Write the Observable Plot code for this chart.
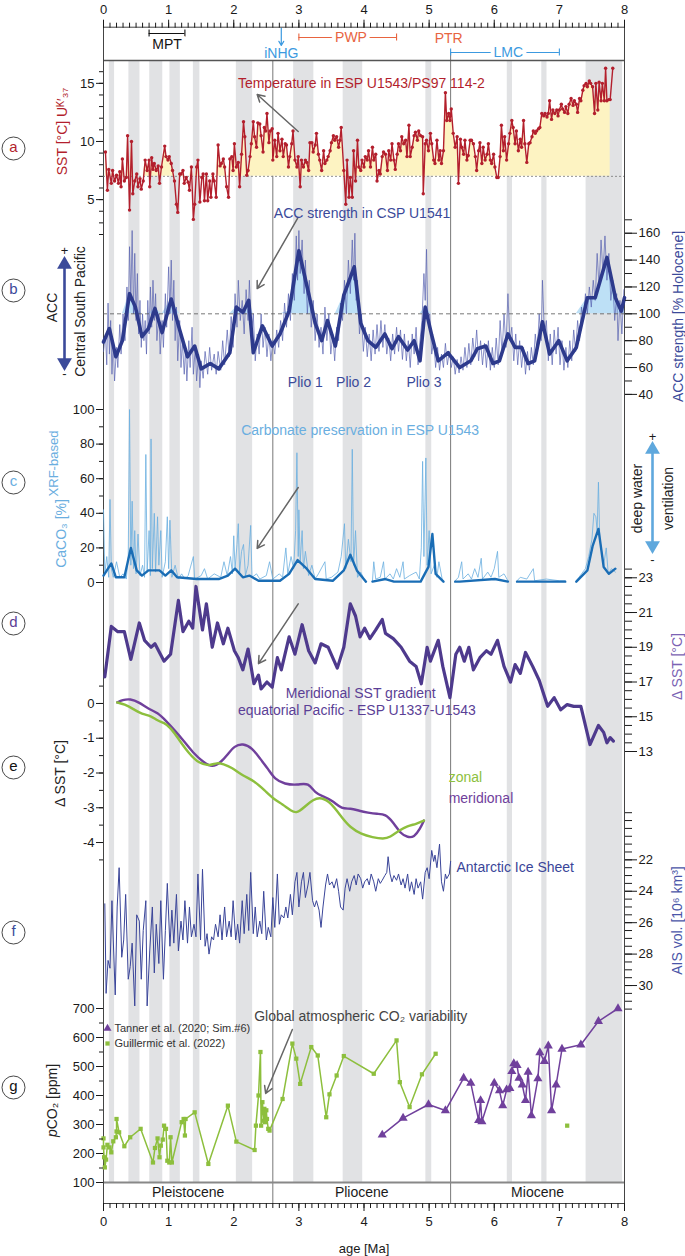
<!DOCTYPE html>
<html>
<head>
<meta charset="utf-8">
<script src="https://cdn.jsdelivr.net/npm/d3@7"></script>
<script src="https://cdn.jsdelivr.net/npm/@observablehq/plot@0.6"></script>
<style>
  html, body { margin: 0; padding: 0; background: #fff; overflow: hidden; }
  #chart { position: relative; width: 685px; height: 1256px; }
  #chart svg { position: absolute; left: 0; top: 0; }
</style>
</head>
<body>
<div id="chart"></div>
<script>
// ---- data (ages in Ma) ----
const bands = [[0.09,0.17],[0.39,0.56],[0.71,0.91],[1.02,1.18],[1.38,1.48],[2.04,2.29],[2.92,3.23],[3.68,3.98],[4.95,5.04],[6.2,6.28],[6.73,6.81],[7.41,7.97]];
const epochs = ["Pleistocene", "Pliocene", "Miocene"];
const epochFrom = [0, 2.6, 5.33];
const epochTo = [2.6, 5.33, 8];
const events = ["MPT", "PWP", "LMC"];
const eventFrom = [0.7, 3.0, 5.33];
const eventTo = [1.25, 4.5, 7.0];
const markers = ["iNHG", "PTR"];
const markerAge = [2.73, 5.3];

// a: SST U1543 [age, °C]
const sst = [[0.03,9.1],[0.06,5.8],[0.08,7.6],[0.12,6.4],[0.14,7.5],[0.17,6.6],[0.2,7.1],[0.23,6.4],[0.25,7.4],[0.27,6.1],
[0.29,8.5],[0.32,6.6],[0.35,6.9],[0.37,10.5],[0.4,4.1],[0.43,10.0],[0.45,5.5],[0.48,6.6],[0.51,7.2],[0.53,6.1],
[0.56,6.8],[0.58,5.9],[0.61,6.6],[0.64,8.4],[0.67,7.5],[0.7,8.4],[0.71,6.1],[0.74,8.6],[0.76,7.6],[0.78,8.1],
[0.81,7.5],[0.84,7.9],[0.86,6.4],[0.89,7.8],[0.94,9.6],[0.96,8.7],[0.99,8.4],[1.01,8.7],[1.04,8.1],[1.06,7.5],
[1.09,6.6],[1.12,4.6],[1.14,3.9],[1.17,7.2],[1.19,7.2],[1.22,7.5],[1.24,6.4],[1.27,6.9],[1.3,6.5],[1.32,5.8],
[1.35,7.8],[1.38,3.3],[1.4,4.6],[1.43,7.8],[1.45,8.4],[1.48,4.8],[1.51,6.9],[1.53,7.2],[1.55,4.9],[1.58,7.2],
[1.6,4.9],[1.63,6.6],[1.65,5.2],[1.68,7.2],[1.7,6.6],[1.73,5.2],[1.76,9.7],[1.79,7.9],[1.81,8.1],[1.84,8.5],
[1.86,7.8],[1.89,6.1],[1.92,5.2],[1.94,8.5],[1.97,8.7],[1.99,7.5],[2.01,9.8],[2.04,7.8],[2.07,8.2],[2.09,6.1],
[2.12,8.9],[2.15,11.7],[2.17,10.4],[2.2,7.1],[2.22,7.5],[2.25,8.7],[2.27,9.8],[2.3,11.7],[2.32,10.4],[2.35,9.5],
[2.37,11.6],[2.4,11.5],[2.42,10.5],[2.45,9.1],[2.47,11.2],[2.49,10.9],[2.51,12.4],[2.54,9.9],[2.56,10.9],[2.59,11.1],
[2.6,8.4],[2.63,10.1],[2.66,8.7],[2.68,10.7],[2.71,9.2],[2.74,10.2],[2.76,8.7],[2.79,9.8],[2.81,9.7],[2.84,7.8],
[2.86,8.7],[2.89,9.8],[2.91,10.9],[2.94,8.4],[2.97,7.8],[2.99,8.7],[3.02,6.1],[3.04,8.4],[3.07,7.8],[3.1,8.4],
[3.12,8.2],[3.15,7.5],[3.17,9.9],[3.2,9.9],[3.22,9.1],[3.25,9.7],[3.27,10.7],[3.3,8.9],[3.32,8.4],[3.35,7.5],
[3.38,9.2],[3.4,8.1],[3.43,8.4],[3.45,8.7],[3.48,9.2],[3.5,9.9],[3.53,10.5],[3.55,10.1],[3.58,10.4],[3.61,9.5],
[3.63,10.1],[3.65,11.2],[3.69,7.5],[3.72,4.6],[3.74,8.4],[3.77,5.2],[3.79,6.9],[3.82,5.2],[3.84,9.2],[3.87,6.6],
[3.9,10.1],[3.92,7.8],[3.95,7.5],[3.97,8.4],[4.0,7.8],[4.02,8.7],[4.05,8.4],[4.07,9.2],[4.1,7.8],[4.13,9.5],
[4.15,8.4],[4.18,8.9],[4.2,6.6],[4.23,7.5],[4.25,7.2],[4.28,8.7],[4.3,9.1],[4.33,8.9],[4.36,7.5],[4.38,9.2],
[4.41,8.4],[4.43,9.8],[4.46,8.4],[4.48,7.6],[4.51,8.9],[4.53,9.8],[4.56,9.2],[4.58,10.4],[4.61,9.8],[4.64,10.1],
[4.66,8.7],[4.69,11.4],[4.71,8.7],[4.74,9.5],[4.77,10.5],[4.79,10.8],[4.82,10.1],[4.84,10.9],[4.87,10.5],[4.9,10.4],
[4.91,5.5],[4.94,9.8],[4.96,10.1],[4.99,9.2],[5.02,10.7],[5.04,9.8],[5.07,8.4],[5.09,8.1],[5.12,10.1],[5.15,8.4],
[5.17,9.2],[5.19,8.1],[5.22,9.2],[5.25,14.2],[5.27,11.8],[5.3,12.4],[5.32,11.8],[5.34,12.8],[5.37,10.7],[5.4,9.5],
[5.43,10.4],[5.45,6.4],[5.48,10.2],[5.5,9.5],[5.53,8.9],[5.55,10.1],[5.58,8.4],[5.6,8.8],[5.63,10.1],[5.65,10.1],
[5.68,9.8],[5.71,8.7],[5.73,7.5],[5.76,9.2],[5.78,9.9],[5.81,8.1],[5.83,9.5],[5.86,8.4],[5.89,8.9],[5.91,9.8],
[5.94,8.4],[5.96,8.1],[5.99,8.9],[6.01,7.8],[6.04,6.9],[6.06,6.9],[6.09,8.7],[6.11,11.4],[6.14,9.2],[6.16,10.4],
[6.19,8.4],[6.22,9.8],[6.24,10.7],[6.27,11.8],[6.29,11.2],[6.32,9.8],[6.34,10.9],[6.37,9.2],[6.4,10.2],[6.42,9.5],
[6.45,11.8],[6.47,9.8],[6.5,8.2],[6.53,9.8],[6.55,9.9],[6.58,10.4],[6.6,10.9],[6.63,10.7],[6.65,10.9],[6.68,11.1],
[6.7,11.2],[6.73,12.4],[6.76,12.2],[6.78,12.4],[6.81,12.1],[6.83,12.4],[6.85,13.5],[6.88,11.9],[6.9,12.7],[6.93,12.4],
[6.96,12.7],[6.98,12.2],[7.0,12.7],[7.03,13.2],[7.05,12.8],[7.08,12.5],[7.1,13.0],[7.13,12.4],[7.15,13.2],[7.18,13.7],
[7.21,13.1],[7.23,13.5],[7.26,13.2],[7.28,12.5],[7.31,13.7],[7.33,13.5],[7.36,14.4],[7.38,14.8],[7.41,15.0],[7.43,14.7],
[7.46,15.2],[7.48,15.0],[7.51,14.7],[7.54,12.4],[7.56,15.0],[7.59,12.7],[7.61,15.1],[7.64,13.5],[7.66,15.0],[7.69,13.5],
[7.71,16.3],[7.73,13.5],[7.76,13.6],[7.78,13.6],[7.82,16.3]];

// b: ACC strength U1541 [% Holocene]
const accRaw = [[0,72],[0.03,85],[0.05,62],[0.07,108],[0.09,70],[0.11,95],[0.13,55],[0.15,80],[0.17,50],[0.2,75],
[0.22,60],[0.25,92],[0.27,70],[0.3,100],[0.33,80],[0.36,120],[0.38,95],[0.4,150],[0.42,110],[0.44,162],
[0.46,100],[0.48,145],[0.5,95],[0.52,130],[0.54,85],[0.56,110],[0.58,75],[0.6,100],[0.62,80],[0.64,95],
[0.66,70],[0.68,110],[0.7,85],[0.72,120],[0.74,90],[0.76,125],[0.78,95],[0.8,115],[0.82,80],[0.85,100],
[0.87,70],[0.9,95],[0.92,75],[0.95,115],[0.97,90],[1.0,135],[1.02,100],[1.04,140],[1.06,95],[1.08,125],
[1.1,80],[1.12,105],[1.14,65],[1.17,95],[1.19,60],[1.21,80],[1.24,55],[1.26,75],[1.28,50],[1.31,80],
[1.33,60],[1.36,90],[1.38,55],[1.41,75],[1.43,50],[1.46,70],[1.48,45],[1.5,65],[1.53,52],[1.56,72],
[1.6,55],[1.63,75],[1.66,58],[1.7,70],[1.73,55],[1.76,72],[1.8,58],[1.83,80],[1.86,62],[1.9,88],
[1.93,68],[1.96,98],[1.99,75],[2.02,115],[2.05,90],[2.07,125],[2.1,95],[2.13,110],[2.16,85],[2.19,118],
[2.22,95],[2.24,125],[2.27,85],[2.3,100],[2.33,65],[2.36,85],[2.39,70],[2.42,100],[2.45,75],[2.48,90],
[2.51,68],[2.54,85],[2.57,65],[2.6,80],[2.63,70],[2.66,88],[2.69,75],[2.72,95],[2.75,80],[2.78,108],
[2.81,90],[2.84,115],[2.87,95],[2.9,130],[2.93,110],[2.96,158],[2.98,125],[3.0,162],[3.02,130],[3.05,155],
[3.08,115],[3.1,140],[3.13,100],[3.16,125],[3.19,90],[3.22,110],[3.25,80],[3.28,100],[3.31,75],[3.34,90],
[3.37,70],[3.4,105],[3.43,80],[3.46,100],[3.49,70],[3.52,85],[3.55,65],[3.58,90],[3.61,80],[3.64,108],
[3.67,95],[3.7,125],[3.73,100],[3.76,140],[3.79,115],[3.82,155],[3.84,125],[3.86,160],[3.88,110],[3.9,125],
[3.93,85],[3.96,100],[3.99,72],[4.02,90],[4.05,68],[4.08,85],[4.11,65],[4.14,88],[4.17,70],[4.2,92],
[4.23,72],[4.26,95],[4.29,75],[4.32,92],[4.35,70],[4.38,82],[4.41,65],[4.44,85],[4.47,70],[4.5,90],
[4.53,72],[4.56,88],[4.59,66],[4.62,85],[4.65,65],[4.68,80],[4.71,60],[4.74,85],[4.77,70],[4.8,90],
[4.83,62],[4.86,80],[4.89,95],[4.92,130],[4.94,110],[4.96,148],[4.98,95],[5.01,100],[5.04,70],[5.07,80],
[5.1,60],[5.13,75],[5.16,58],[5.19,70],[5.22,60],[5.25,78],[5.28,62],[5.31,72],[5.34,60],[5.37,68],
[5.4,55],[5.43,66],[5.46,56],[5.49,68],[5.52,58],[5.55,75],[5.58,60],[5.61,78],[5.64,62],[5.67,82],
[5.7,68],[5.73,88],[5.76,65],[5.79,80],[5.82,62],[5.85,78],[5.88,60],[5.91,80],[5.94,58],[5.97,75],
[6.0,60],[6.03,82],[6.06,62],[6.09,95],[6.12,70],[6.15,100],[6.18,75],[6.21,115],[6.24,80],[6.27,90],
[6.3,65],[6.33,85],[6.36,62],[6.39,80],[6.42,60],[6.45,75],[6.48,55],[6.51,72],[6.54,58],[6.57,75],
[6.6,62],[6.63,85],[6.66,70],[6.69,100],[6.72,80],[6.74,125],[6.77,85],[6.8,95],[6.83,65],[6.86,85],
[6.89,62],[6.92,88],[6.95,70],[6.98,90],[7.01,62],[7.04,80],[7.07,58],[7.1,75],[7.13,60],[7.16,80],
[7.19,65],[7.22,88],[7.25,72],[7.28,95],[7.31,80],[7.34,105],[7.37,95],[7.4,115],[7.43,100],[7.46,120],
[7.49,105],[7.52,125],[7.55,110],[7.58,145],[7.61,120],[7.64,155],[7.67,130],[7.7,158],[7.73,125],[7.76,145],
[7.79,110],[7.82,125],[7.85,95],[7.88,115],[7.9,80],[7.93,110],[7.96,85],[7.99,118]];
const accSmooth = [[0,79],[0.09,89],[0.19,68],[0.29,80],[0.4,115],[0.49,105],[0.59,83],[0.69,89],[0.79,104],[0.9,86],
[1.04,111],[1.17,88],[1.29,68],[1.4,76],[1.5,59],[1.64,63],[1.77,59],[1.94,71],[2.04,105],[2.14,101],
[2.23,110],[2.3,71],[2.44,91],[2.59,76],[2.71,85],[2.85,102],[3.0,147],[3.15,115],[3.25,93],[3.35,80],
[3.44,95],[3.56,76],[3.69,114],[3.85,135],[3.95,93],[4.06,80],[4.18,75],[4.32,85],[4.43,74],[4.53,83],
[4.67,73],[4.77,80],[4.86,65],[4.94,105],[5.04,84],[5.14,65],[5.29,71],[5.47,60],[5.64,65],[5.74,74],
[5.87,76],[5.98,63],[6.08,65],[6.21,85],[6.32,75],[6.42,75],[6.52,63],[6.62,65],[6.74,94],[6.85,70],
[6.99,80],[7.12,65],[7.26,75],[7.43,112],[7.55,112],[7.73,142],[7.86,112],[7.95,102],[8.0,112]];
const plioLabels = ["Plio 1", "Plio 2", "Plio 3"];
const plioAge = [3.1, 3.84, 4.92];

// c: CaCO3 XRF-based [%]; null = no data
const carbRaw = [[0,42],[0.02,5],[0.05,15],[0.08,3],[0.1,48],[0.12,8],[0.15,3],[0.2,12],[0.25,3],[0.3,5],
[0.35,2],[0.38,15],[0.4,100],[0.42,10],[0.44,47],[0.46,8],[0.48,30],[0.5,5],[0.53,28],[0.56,4],
[0.6,10],[0.63,3],[0.65,74],[0.67,6],[0.7,30],[0.72,4],[0.73,83],[0.75,8],[0.78,40],[0.8,6],
[0.83,38],[0.85,10],[0.88,30],[0.9,3],[0.95,12],[0.98,38],[1.0,8],[1.02,36],[1.05,3],[1.1,10],
[1.15,2],[1.2,5],[1.25,2],[1.3,4],[1.38,15],[1.4,2],[1.5,4],[1.55,8],[1.6,2],[1.7,5],
[1.8,3],[1.85,12],[1.9,4],[1.95,15],[1.98,5],[2.0,27],[2.02,8],[2.05,22],[2.07,34],[2.09,6],
[2.12,18],[2.15,22],[2.18,4],[2.22,10],[2.26,33],[2.28,3],[2.35,5],[2.4,2],[2.5,4],[2.55,12],
[2.6,2],[2.7,5],[2.75,3],[2.8,20],[2.83,5],[2.88,15],[2.92,8],[2.95,30],[2.97,75],[2.99,15],
[3.0,42],[3.02,12],[3.05,30],[3.07,8],[3.1,18],[3.15,4],[3.2,10],[3.25,2],[3.3,5],[3.4,12],
[3.42,2],[3.5,3],[3.6,6],[3.65,15],[3.7,34],[3.72,8],[3.76,25],[3.8,12],[3.82,77],[3.84,10],
[3.87,30],[3.9,3],[3.95,6],[4.0,2],[4.03,1],[4.08,null],[4.13,1],[4.15,12],[4.18,2],[4.25,3],
[4.3,12],[4.32,2],[4.4,5],[4.45,2],[4.5,8],[4.55,3],[4.6,12],[4.62,2],[4.7,4],[4.8,6],
[4.85,2],[4.88,20],[4.9,70],[4.92,15],[4.95,72],[4.97,10],[5.0,30],[5.03,5],[5.08,10],[5.12,3],
[5.15,12],[5.2,2],[5.22,1],[5.3,null],[5.4,1],[5.45,3],[5.5,12],[5.52,2],[5.6,5],[5.65,2],
[5.7,8],[5.75,3],[5.8,14],[5.82,2],[5.9,6],[5.95,3],[6.0,8],[6.05,18],[6.07,3],[6.15,5],
[6.21,1],[6.28,null],[6.35,1],[6.4,3],[6.5,2],[6.6,8],[6.62,1],[6.8,2],[7.0,1],[7.09,1],
[7.17,null],[7.26,1],[7.3,3],[7.4,8],[7.45,15],[7.5,25],[7.53,40],[7.56,38],[7.58,30],[7.6,58],
[7.62,25],[7.65,18],[7.68,10],[7.72,20],[7.75,5],[7.8,8],[7.86,6]];
const carbSmooth = [[0,4],[0.12,11],[0.19,3],[0.32,3],[0.42,20],[0.51,7],[0.59,4],[0.69,7],[0.86,7],[0.95,4],
[1.04,7],[1.13,3],[1.43,2],[1.77,2],[1.91,4],[2.02,8],[2.14,3],[2.24,4],[2.38,1],[2.71,1],
[2.85,5],[2.98,13],[3.12,8],[3.25,2],[3.52,1],[3.69,7],[3.79,16],[3.89,7],[4.03,0.5],[4.08,null],
[4.13,0.5],[4.33,2],[4.46,0.5],[4.87,0.5],[4.99,9],[5.05,28],[5.1,5],[5.22,0.5],[5.3,null],[5.4,0.5],
[5.47,0.5],[6.01,2],[6.21,0.5],[6.28,null],[6.35,0.5],[7.09,0.5],[7.17,null],[7.26,0.5],[7.43,7],[7.51,21],
[7.6,31],[7.68,9],[7.76,5],[7.86,8]];

// d: meridional SST gradient U1337-U1543 [°C]
const meridGrad = [[0.02,17.3],[0.12,20.2],[0.22,19.9],[0.32,19.9],[0.42,18.3],[0.55,20.4],[0.63,19.4],[0.73,19.0],[0.79,19.2],[0.93,18.2],
[1.03,18.6],[1.15,21.7],[1.22,19.9],[1.31,20.5],[1.37,20.1],[1.42,22.5],[1.52,20.0],[1.58,21.5],[1.67,19.0],[1.75,20.4],
[1.84,19.2],[1.91,20.1],[2.01,18.8],[2.07,18.4],[2.14,17.7],[2.22,18.9],[2.31,16.9],[2.38,17.4],[2.42,16.6],[2.51,17.0],
[2.59,16.7],[2.67,18.4],[2.73,17.7],[2.85,19.6],[2.94,18.6],[3.05,20.3],[3.15,18.8],[3.25,18.1],[3.34,19.2],[3.45,19.0],
[3.59,17.8],[3.69,19.0],[3.79,21.5],[3.87,20.8],[3.94,19.6],[4.01,20.1],[4.09,19.5],[4.18,20.0],[4.28,20.6],[4.33,19.8],
[4.45,19.5],[4.57,19.0],[4.7,18.2],[4.8,17.9],[4.88,16.9],[4.97,19.0],[5.02,18.2],[5.14,19.4],[5.21,17.9],[5.32,16.1],
[5.41,18.6],[5.47,19.0],[5.54,18.2],[5.61,19.0],[5.68,17.7],[5.78,18.4],[5.88,18.8],[5.95,18.6],[6.05,19.4],[6.15,17.9],
[6.25,17.0],[6.32,18.0],[6.4,17.5],[6.48,18.7],[6.59,17.9],[6.69,17.1],[6.82,15.6],[6.92,16.1],[7.02,15.4],[7.12,15.7],
[7.22,15.6],[7.33,15.6],[7.47,13.4],[7.6,14.5],[7.68,14.1],[7.73,13.5],[7.78,13.8],[7.83,13.6]];

// e: ΔSST relative to today [°C]
const zonal = [[0.21,0.03],[0.32,-0.02],[0.46,-0.16],[0.59,-0.31],[0.73,-0.35],[0.83,-0.5],[0.93,-0.55],[1.03,-0.69],[1.17,-1.07],[1.3,-1.41],
[1.47,-1.74],[1.64,-1.79],[1.74,-1.7],[1.84,-1.74],[1.97,-1.84],[2.14,-2.08],[2.31,-2.22],[2.48,-2.51],[2.61,-2.75],[2.75,-2.9],
[2.88,-3.09],[2.97,-3.16],[3.08,-2.99],[3.22,-2.75],[3.35,-2.7],[3.49,-2.85],[3.66,-3.28],[3.79,-3.57],[3.96,-3.76],[4.13,-3.85],
[4.3,-3.9],[4.4,-3.85],[4.53,-3.66],[4.67,-3.52],[4.8,-3.47],[4.92,-3.37]];
const meridional = [[0.21,0.03],[0.29,0.1],[0.41,0.14],[0.55,0.03],[0.69,-0.16],[0.83,-0.26],[0.96,-0.5],[1.1,-0.79],[1.23,-1.07],[1.37,-1.41],
[1.54,-1.7],[1.67,-1.84],[1.8,-1.7],[1.91,-1.46],[2.01,-1.22],[2.14,-1.15],[2.28,-1.27],[2.41,-1.6],[2.53,-1.89],[2.63,-2.18],
[2.78,-2.32],[2.98,-2.35],[3.15,-2.27],[3.25,-2.59],[3.39,-2.68],[3.52,-2.8],[3.66,-3.04],[3.79,-3.01],[3.93,-3.09],[4.06,-3.14],
[4.2,-3.18],[4.33,-3.18],[4.45,-3.42],[4.57,-3.76],[4.67,-3.85],[4.77,-3.85],[4.86,-3.61],[4.92,-3.37]];

// f: Antarctic ice sheet volume [10^6 km^3]
const ais = [[0.02,24.8],[0.04,30.5],[0.07,28.4],[0.1,28.9],[0.13,24.6],[0.15,27.1],[0.18,30.6],[0.21,25.0],[0.24,22.5],[0.28,28.2],
[0.31,27.1],[0.34,24.2],[0.38,29.6],[0.41,28.8],[0.44,27.3],[0.48,31.3],[0.51,25.5],[0.55,25.9],[0.58,29.6],[0.61,26.5],
[0.65,24.6],[0.67,31.3],[0.71,27.8],[0.75,25.0],[0.78,29.2],[0.81,26.1],[0.85,28.6],[0.88,24.6],[0.92,29.6],[0.95,26.5],
[0.98,23.5],[1.02,27.5],[1.05,25.2],[1.08,27.3],[1.12,24.2],[1.15,27.8],[1.19,25.9],[1.22,27.1],[1.25,24.6],[1.29,27.3],
[1.32,25.0],[1.35,26.9],[1.39,26.1],[1.42,26.9],[1.45,22.9],[1.49,27.1],[1.52,22.6],[1.56,27.5],[1.59,26.7],[1.62,28.0],
[1.66,26.9],[1.69,27.1],[1.72,26.1],[1.76,26.9],[1.79,25.5],[1.82,27.1],[1.86,25.0],[1.89,26.9],[1.93,25.9],[1.96,26.9],
[1.99,24.6],[2.03,27.1],[2.06,26.1],[2.09,27.3],[2.13,24.6],[2.16,26.7],[2.2,24.2],[2.23,26.5],[2.26,22.8],[2.3,26.7],
[2.33,25.0],[2.36,26.9],[2.4,25.9],[2.43,26.7],[2.46,24.0],[2.5,27.1],[2.53,26.3],[2.57,26.9],[2.6,24.4],[2.63,26.3],
[2.67,22.9],[2.7,26.1],[2.73,25.5],[2.77,25.7],[2.8,25.0],[2.83,25.7],[2.87,24.2],[2.9,25.5],[2.94,23.4],[2.97,22.8],
[3.0,25.0],[3.04,23.4],[3.07,22.8],[3.1,24.4],[3.14,23.6],[3.17,22.8],[3.21,24.6],[3.24,25.0],[3.27,24.6],[3.31,25.2],
[3.34,26.3],[3.37,25.0],[3.41,23.6],[3.44,22.9],[3.47,23.6],[3.51,23.4],[3.54,23.8],[3.58,23.2],[3.61,24.0],[3.64,25.0],
[3.68,25.2],[3.71,23.8],[3.74,23.2],[3.78,24.0],[3.81,23.4],[3.85,23.0],[3.88,23.6],[3.91,22.9],[3.95,23.2],[3.98,23.8],
[4.01,23.4],[4.05,23.2],[4.08,23.6],[4.11,22.9],[4.15,23.4],[4.18,24.0],[4.22,23.2],[4.25,23.5],[4.28,23.3],[4.32,23.0],
[4.35,22.8],[4.37,21.8],[4.4,22.9],[4.43,23.4],[4.46,23.0],[4.5,23.3],[4.53,22.9],[4.57,23.6],[4.6,23.2],[4.63,23.8],
[4.67,22.9],[4.7,24.0],[4.73,23.4],[4.77,24.2],[4.8,23.2],[4.83,23.8],[4.87,23.4],[4.9,24.5],[4.94,22.8],[4.97,22.5],
[5.0,23.2],[5.04,21.4],[5.07,22.1],[5.09,21.7],[5.12,22.5],[5.16,21.0],[5.19,23.4],[5.22,24.0],[5.25,22.9],[5.27,23.2],
[5.31,22.9],[5.33,22.1]];

// g: atmospheric pCO2 [ppm]
const tanner = [[4.28,264],[4.6,322],[4.99,369],[5.25,348],[5.53,460],[5.64,443],[5.76,314],[5.79,383],[5.81,310],[6.0,443],
[6.08,417],[6.13,365],[6.19,420],[6.24,425],[6.27,483],[6.3,510],[6.35,504],[6.38,460],[6.43,437],[6.48,383],
[6.52,481],[6.57,331],[6.67,458],[6.7,548],[6.77,518],[6.83,571],[6.88,348],[6.95,437],[7.04,560],[7.33,575],
[7.6,656],[7.9,700]];
const guillermic = [[0,252],[0,221],[0.01,187],[0.02,152],[0.04,179],[0.06,230],[0.09,221],[0.12,204],[0.15,242],[0.19,256],
[0.2,276],[0.2,319],[0.24,273],[0.32,225],[0.41,256],[0.57,285],[0.76,169],[0.79,219],[0.83,252],[0.86,187],
[0.88,227],[0.91,248],[0.93,296],[0.96,285],[0.98,175],[1.01,169],[1.03,256],[1.05,169],[1.2,308],[1.23,319],
[1.25,262],[1.26,319],[1.4,342],[1.61,164],[1.91,365],[2.04,241],[2.32,212],[2.34,296],[2.38,400],[2.41,550],
[2.42,296],[2.44,377],[2.46,313],[2.47,354],[2.48,308],[2.5,349],[2.51,319],[2.53,285],[2.55,279],[2.75,388],
[2.9,579],[2.96,527],[3.02,440],[3.19,567],[3.29,538],[3.42,325],[3.47,404],[3.58,469],[3.69,536],[4.15,475],
[4.5,590],[4.55,446],[4.7,360],[4.89,473],[5.1,544],[7.12,296]];

// ---- styling ----
const font = "'Liberation Sans', Arial, Helvetica, sans-serif";
const RED = "#b31f2d", ACC = "#2d3a8c", ACCTHIN = "#5861b0", BLUE = "#3b4a9a",
  CARB = "#6aaee0", CARBD = "#1a6db5", PURD = "#4e3a8d", PUR = "#70409c",
  GREEN = "#8dbf3d", AISC = "#3a4599", ORANGE = "#e8643f", SKY = "#3c9ae0", ARROW = "#666";

const root = document.getElementById("chart");
function layer(o) {
  const svg = Plot.plot({
    width: 685, height: 1256,
    marginLeft: 103, marginRight: 61, marginTop: 26.7, marginBottom: 53,
    style: {background: "none", fontFamily: font, fontSize: "13px", color: "#1a1a1a", overflow: "visible"},
    ...o
  });
  root.append(svg);
  return svg;
}
const X = {domain: [0, 8], range: [103, 624], axis: null};
const ax = d => d[0], ay = d => d[1];

function yAxis(anchor, major, minor) {
  const left = anchor === "left";
  return [
    Plot.axisY(minor, {anchor, tickSize: left ? 4 : 7, tickFormat: () => "", label: null}),
    Plot.axisY(major, {anchor, tickSize: left ? 7 : 12, tickPadding: 2, tickFormat: d => String(d), label: null, fontSize: 13})
  ];
}
const note = (s, x, y, fill, extra = {}) =>
  Plot.text([s], {x, y, text: d => d, fill, fontSize: 14, ...extra});
const pointer = (x1, y1, x2, y2) =>
  Plot.arrow([0], {x1, y1, x2, y2, stroke: ARROW, strokeWidth: 1.5, headLength: 8});

// ---- layout: bands, frame, event box, epochs, age axes ----
const eventBarY = [33, 37, 52], eventLabelY = [44, 37, 52], eventColor = ["#111", ORANGE, SKY];
const layoutMarks = [
  Plot.rect(bands, {x1: ax, x2: ay, y1: 60, y2: 1182, fill: "#e1e2e4"}),
  Plot.ruleX([epochFrom[1]], {y1: 60, y2: 1203, stroke: "#555", strokeWidth: 0.8}),
  Plot.ruleX([epochFrom[2]], {y1: 52, y2: 1203, stroke: "#555", strokeWidth: 0.8})
];
events.forEach((name, i) => {
  const c = eventColor[i];
  layoutMarks.push(
    Plot.ruleY([eventBarY[i]], {x1: eventFrom[i], x2: eventTo[i], stroke: c, strokeWidth: 1.1}),
    Plot.ruleX([eventFrom[i], eventTo[i]], {y1: eventBarY[i] - 3.5, y2: eventBarY[i] + 3.5, stroke: c, strokeWidth: 1.1}),
    Plot.text([name], {x: (eventFrom[i] + eventTo[i]) / 2 + (i === 0 ? 0 : 0.05), y: eventLabelY[i], text: d => d,
      fill: i === 0 ? "#111" : c, fontSize: 14, stroke: "white", strokeWidth: 8, paintOrder: "stroke"})
  );
});
layoutMarks.push(
  Plot.arrow([0], {x1: markerAge[0], x2: markerAge[0], y1: 27.5, y2: 45, stroke: SKY, strokeWidth: 1.2, headLength: 6}),
  note(markers[0], markerAge[0], 53, SKY),
  note(markers[1], markerAge[1], 38, ORANGE),
  Plot.ruleY([60], {stroke: "#555", strokeWidth: 1.6}),
  Plot.ruleY([1182], {stroke: "#888", strokeWidth: 2}),
  Plot.frame({stroke: "#444"}),
  Plot.text(epochs, {x: (d, i) => (epochFrom[i] + epochTo[i]) / 2, y: 1192, text: d => d, fontSize: 14}),
  Plot.axisX(d3.range(81).map(i => i / 10), {anchor: "top", tickSize: 5, tickFormat: () => "", label: null}),
  Plot.axisX(d3.range(9), {anchor: "top", tickSize: 8, tickPadding: 5, tickFormat: d => String(d), label: null, fontSize: 13}),
  Plot.axisX(d3.range(81).map(i => i / 10), {anchor: "bottom", tickSize: 5, tickFormat: () => "", label: null}),
  Plot.axisX(d3.range(9), {anchor: "bottom", tickSize: 8, tickPadding: 5, tickFormat: d => String(d), label: null, fontSize: 13}),
  Plot.text(["age [Ma]"], {x: 4, y: 1248, text: d => d, fontSize: 13})
);
layer({x: {domain: [0, 8], range: [103, 624]}, y: {type: "identity", axis: null}, marks: layoutMarks});

// ---- a: SST ----
layer({x: X, y: {domain: [2, 16], range: [234, 71.2]}, marks: [
  Plot.areaY(sst.slice(0, -1), {x: ax, y1: 7, y2: d => Math.max(d[1], 7), fill: "#fdf3c2"}),
  Plot.ruleY([7], {stroke: "#777", strokeWidth: 0.8, strokeDasharray: "2,2"}),
  Plot.line(sst, {x: ax, y: ay, stroke: RED, strokeWidth: 1.4}),
  Plot.dot(sst, {x: ax, y: ay, r: 1.7, fill: RED}),
  ...yAxis("left", [5, 10, 15], d3.range(2, 17)),
  note("Temperature in ESP U1543/PS97 114-2", 3.96, 15, RED),
  pointer(2.99, 10.86, 2.36, 14.04)
]});

// ---- b: ACC ----
layer({x: X, y: {domain: [40, 170], range: [393.9, 219.3]}, marks: [
  Plot.areaY(accSmooth, {x: ax, y1: 100, y2: d => Math.max(d[1], 100), fill: "#bde0f6"}),
  Plot.line(accRaw, {x: ax, y: ay, stroke: ACCTHIN, strokeWidth: 0.7}),
  Plot.ruleY([100], {stroke: "#555", strokeWidth: 0.8, strokeDasharray: "4,3"}),
  Plot.line(accSmooth, {x: ax, y: ay, stroke: ACC, strokeWidth: 3.6, strokeLinejoin: "round"}),
  ...yAxis("right", d3.range(40, 161, 20), d3.range(40, 171, 10)),
  note("ACC strength in CSP U1541", 3.97, 174.5, BLUE),
  Plot.text(plioLabels, {x: (d, i) => plioAge[i], y: 48.8, text: d => d, fill: BLUE, fontSize: 14}),
  pointer(2.98, 171, 2.36, 118.8)
]});

// ---- c: CaCO3 ----
layer({x: X, y: {domain: [0, 100], range: [582, 409]}, marks: [
  Plot.line(carbRaw, {x: ax, y: ay, stroke: CARB, strokeWidth: 0.8}),
  Plot.line(carbSmooth, {x: ax, y: ay, stroke: CARBD, strokeWidth: 2.4, strokeLinejoin: "round"}),
  ...yAxis("left", d3.range(0, 101, 20), d3.range(0, 101, 10)),
  note("Carbonate preservation in ESP U1543", 3.94, 87.9, CARB),
  pointer(2.99, 54.9, 2.36, 19.7)
]});

// ---- d: meridional SST gradient ----
layer({x: X, y: {domain: [13, 23.5], range: [751, 568.6]}, marks: [
  Plot.line(meridGrad, {x: ax, y: ay, stroke: PURD, strokeWidth: 3.2, strokeLinejoin: "round"}),
  ...yAxis("right", d3.range(13, 24, 2), d3.range(13, 23.51, 0.5)),
  note("Meridional SST gradient", 3.95, 16.32, "#5b3f96"),
  note("equatorial Pacific - ESP U1337-U1543", 3.89, 15.36, "#5b3f96"),
  pointer(2.99, 21.5, 2.38, 18.06)
]});

// ---- e: zonal / meridional ΔSST ----
layer({x: X, y: {domain: [-4.5, 0.5], range: [859.4, 685.6]}, marks: [
  Plot.line(meridional, {x: ax, y: ay, stroke: PUR, strokeWidth: 2.4, curve: "basis"}),
  Plot.line(zonal, {x: ax, y: ay, stroke: GREEN, strokeWidth: 2.4, curve: "basis"}),
  ...yAxis("left", d3.range(-4, 1, 1), d3.range(-4.5, 0.51, 0.5)),
  note("zonal", 5.3, -2.13, GREEN, {textAnchor: "start"}),
  note("meridional", 5.3, -2.73, PUR, {textAnchor: "start"})
]});

// ---- f: Antarctic ice sheet ----
layer({x: X, y: {domain: [19, 31.5], range: [812.2, 1008.6]}, marks: [
  Plot.line(ais, {x: ax, y: ay, stroke: AISC, strokeWidth: 1}),
  ...yAxis("right", d3.range(22, 31, 2), d3.range(19, 31.51, 0.5)),
  note("Antarctic Ice Sheet", 5.42, 22.47, AISC, {textAnchor: "start"})
]});

// ---- g: pCO2 ----
layer({x: X, y: {domain: [100, 700], range: [1182, 1008]}, marks: [
  Plot.line(guillermic.filter(d => d[0] < 6), {x: ax, y: ay, stroke: GREEN, strokeWidth: 1.5}),
  Plot.dot(guillermic, {x: ax, y: ay, symbol: "square", r: 2.4, fill: GREEN}),
  Plot.line(tanner, {x: ax, y: ay, stroke: PUR, strokeWidth: 1.5}),
  Plot.dot(tanner, {x: ax, y: ay, symbol: "triangle", r: 3.4, fill: PUR}),
  ...yAxis("left", d3.range(100, 701, 100), d3.range(100, 701, 50)),
  note("Global atmospheric CO₂ variability", 3.95, 672, "#444"),
  pointer(2.9, 627.6, 2.49, 406.9)
]});

// ---- decorations outside the frame (pixel positions) ----
const letters = ["a", "b", "c", "d", "e", "f", "g"];
const letterY = [148, 290, 482, 623, 767, 932, 1087];
const letterColor = [RED, BLUE, CARB, "#5b3f96", "#111", BLUE, "#111"];
const vt = (s, x, y, fill, size = 14) => Plot.text([s], {x, y, text: d => d, fill, fontSize: size, rotate: -90});
const dbl = (x, y1, y2, fill) => [
  Plot.ruleX([x], {y1: y1 + 6, y2: y2 - 6, stroke: fill, strokeWidth: 2.6}),
  Plot.dot([0], {x, y: y1 + 6, symbol: "triangle", r: 5.5, fill}),
  Plot.dot([0], {x, y: y2 - 6, symbol: "triangle", r: 5.5, fill, rotate: 180})
];
const decor = layer({x: {type: "identity", axis: null}, y: {type: "identity", axis: null}, marks: [
  Plot.dot(letters, {x: 13, y: (d, i) => letterY[i], r: 11.5, stroke: "#333", strokeWidth: 0.9, fill: "white"}),
  ...letters.map((l, i) => Plot.text([l], {x: 13, y: letterY[i] - 1, text: d => d, fill: letterColor[i], fontSize: 15})),
  vt("SST [°C] Uᴷ′₃₇", 62, 131, RED),
  vt("ACC", 52, 307, "#222"),
  vt("Central South Pacific", 80, 311, "#222"),
  ...dbl(64, 258, 368, BLUE),
  Plot.text(["+", "-"], {x: 64, y: (d, i) => [250, 373][i], text: d => d, fontSize: 13}),
  vt("XRF-based", 53, 463, CARB, 13),
  vt("CaCO₃ [%]", 61, 533, CARB),
  vt("deep water", 637, 498, "#222"),
  vt("ventilation", 668, 498, "#222"),
  ...dbl(652, 443, 551, "#5fa8dd"),
  Plot.text(["+", "-"], {x: 652, y: (d, i) => [436, 559][i], text: d => d, fontSize: 13}),
  vt("Δ SST [°C]", 60, 773, "#222"),
  vt("pCO₂ [ppm]", 52, 1100, "#222"),
  vt("ACC strength [% Holocene]", 678, 316, BLUE),
  vt("Δ SST [°C]", 677, 666, "#7b62b3"),
  vt("AIS vol. [10⁶ km³]", 677, 920, "#4a55a8"),
  Plot.dot([0], {x: 107, y: 1028, symbol: "triangle", r: 3, fill: PUR}),
  Plot.text(["Tanner et al. (2020; Sim.#6)"], {x: 114, y: 1028, text: d => d, textAnchor: "start", fontSize: 11, fill: "#333"}),
  Plot.dot([0], {x: 107, y: 1043, symbol: "square", r: 2.4, fill: GREEN}),
  Plot.text(["Guillermic et al. (2022)"], {x: 114, y: 1043, text: d => d, textAnchor: "start", fontSize: 11, fill: "#333"})
]});

// italic "p" in the pCO2 axis title
decor.querySelectorAll("text").forEach(t => {
  if (t.textContent === "pCO₂ [ppm]") {
    t.textContent = "";
    const p = document.createElementNS("http://www.w3.org/2000/svg", "tspan");
    p.setAttribute("font-style", "italic");
    p.textContent = "p";
    t.append(p, document.createTextNode("CO₂ [ppm]"));
  }
});
</script>
</body>
</html>
